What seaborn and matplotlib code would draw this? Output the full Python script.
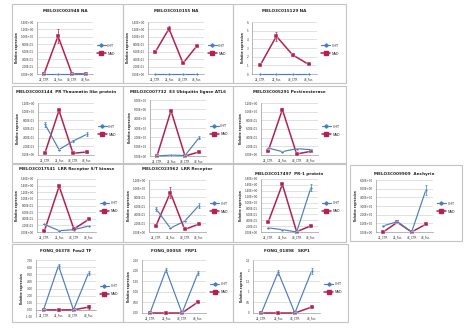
import numpy as np
import pandas as pd
import matplotlib
matplotlib.use("Agg")
import matplotlib.pyplot as plt
from matplotlib.patches import Rectangle
from matplotlib.ticker import FuncFormatter
import seaborn as sns

# ---------------- data ----------------
categories = ["24_CTR", "24_Fus", "48_CTR", "48_Fus"]
series_names = ["CHT", "NAD"]

titles = [
    "MELO3C002948 NA", "MELO3C010155 NA", "MELO3C015129 NA",
    "MELO3C003144  PR Thaumatin like protein", "MELO3C007732  E3 Ubiquitin ligase ATL6",
    "MELO3C005291 Pectinesterase",
    "MELO3C017541  LRR Receptor S/T kinase", "MELO3C023962  LRR Receptor",
    "MELO3C017497  PR-1 protein", "MELO3C009909  Anchyrin",
    "FONG_06378  Fow2 TF", "FONG_00058   FRP1", "FONG_01898   SKP1",
]

cht_1 = [0, 0, 0, 0];               nad_1 = [0, 1.02, 0, 0]
cht_2 = [0, 0, 0, 0];               nad_2 = [0.58, 1.22, 0.29, 0.76]
cht_3 = [0, 0, 0, 0];               nad_3 = [1.0, 4.36, 2.2, 1.1]
cht_4 = [0.71, 0.125, 0.32, 0.48];  nad_4 = [0.05, 1.03, 0.04, 0.07]
cht_5 = [0, 0.1, 0.05, 1.95];       nad_5 = [0, 4.86, 0, 0.43]
cht_6 = [0.16, 0.077, 0.146, 0.123]; nad_6 = [0.085, 1.05, 0.023, 0.085]
cht_7 = [0.23, 0.04, 0.07, 0.18];   nad_7 = [0.03, 1.38, 0.09, 0.38]
cht_8 = [0.53, 0.09, 0.25, 0.61];   nad_8 = [0.15, 0.91, 0.06, 0.18]
cht_9 = [0.14, 0.08, 0.0, 1.5];     nad_9 = [0.33, 1.62, 0.01, 0.21]
cht_10 = [0.7, 1.2, 0, 4.85];       nad_10 = [0, 1.12, 0, 0.9]
cht_11 = [0, 6.2, 0, 5.15];         nad_11 = [0, 0, 0, 0.38]
cht_12 = [0, 2.03, 0, 1.89];        nad_12 = [0, 0, 0, 0.52]
cht_13 = [0, 1.93, 0, 1.98];        nad_13 = [0, 0, 0, 0.28]

cht_err_1 = [0, 0, 0, 0];        nad_err_1 = [0, 0.18, 0, 0]
cht_err_2 = [0, 0, 0, 0];        nad_err_2 = [0, 0.06, 0, 0]
cht_err_3 = [0, 0, 0, 0];        nad_err_3 = [0, 0.5, 0.1, 0]
cht_err_4 = [0.06, 0, 0.03, 0.05]; nad_err_4 = [0, 0.03, 0, 0]
cht_err_5 = [0, 0, 0, 0.15];     nad_err_5 = [0, 0.1, 0, 0]
cht_err_6 = [0, 0, 0, 0];        nad_err_6 = [0, 0.03, 0, 0]
cht_err_7 = [0, 0, 0, 0];        nad_err_7 = [0, 0.03, 0, 0]
cht_err_8 = [0.05, 0, 0, 0.06];  nad_err_8 = [0, 0.13, 0, 0]
cht_err_9 = [0, 0, 0, 0.12];     nad_err_9 = [0, 0.05, 0, 0]
cht_err_10 = [0, 0, 0, 0.6];     nad_err_10 = [0, 0, 0, 0]
cht_err_11 = [0, 0.3, 0, 0.3];   nad_err_11 = [0, 0, 0, 0.25]
cht_err_12 = [0, 0.1, 0, 0.1];   nad_err_12 = [0, 0, 0, 0]
cht_err_13 = [0, 0.12, 0, 0.12]; nad_err_13 = [0, 0, 0, 0]

# y-axis ranges: (min, max, step) and tick-label style
y_min = [0, 0, 0, 0, 0, 0, 0, 0, 0, 0, -1, 0, 0]
y_max = [1.4, 1.4, 6, 1.2, 6, 1.2, 1.6, 1.2, 1.8, 6, 7, 2.5, 2.5]
y_step = [0.2, 0.2, 1, 0.2, 1, 0.2, 0.2, 0.2, 0.2, 1, 1, 0.5, 0.5]
y_fmt = ["sci", "sci", "int", "sci", "sci", "sci", "sci", "sci", "sci", "sci", "f2", "f2", "g"]

chts = [cht_1, cht_2, cht_3, cht_4, cht_5, cht_6, cht_7, cht_8, cht_9, cht_10, cht_11, cht_12, cht_13]
nads = [nad_1, nad_2, nad_3, nad_4, nad_5, nad_6, nad_7, nad_8, nad_9, nad_10, nad_11, nad_12, nad_13]
cht_errs = [cht_err_1, cht_err_2, cht_err_3, cht_err_4, cht_err_5, cht_err_6, cht_err_7,
            cht_err_8, cht_err_9, cht_err_10, cht_err_11, cht_err_12, cht_err_13]
nad_errs = [nad_err_1, nad_err_2, nad_err_3, nad_err_4, nad_err_5, nad_err_6, nad_err_7,
            nad_err_8, nad_err_9, nad_err_10, nad_err_11, nad_err_12, nad_err_13]

# ---------------- layout (pixels) ----------------
W, H = 474, 332
boxes = [
    (12, 4, 123, 83), (123, 4, 233, 83), (233, 4, 346, 83),
    (12, 86, 123, 163), (123, 86, 233, 163), (233, 86, 346, 163),
    (12, 164, 123, 242), (123, 164, 233, 242), (233, 164, 346, 242), (350, 165, 462, 241),
    (12, 244, 123, 322), (123, 244, 233, 322), (233, 244, 348, 322),
]
areas = [
    (37, 22, 93, 74), (148, 22, 204, 74), (252, 22, 317, 74),
    (38, 103, 94, 155), (150, 100, 206, 156), (261, 103, 318, 155),
    (37, 179, 96, 232), (149, 180, 206, 232), (261, 179, 318, 232), (376, 180, 433, 232),
    (36, 260, 96, 317), (142, 260, 206, 313), (253, 260, 320, 313),
]
title_y = [11, 11, 11, 92, 92, 92, 169, 169, 174, 174, 250, 250, 250]

BLUE = "#4A7EBB"
RED = "#B3224F"
palette = {"CHT": BLUE, "NAD": RED}

sns.set_theme(style="white")
plt.rcParams["font.family"] = ["DejaVu Sans"]

fig = plt.figure(figsize=(W / 100, H / 100), dpi=100)
fig.patch.set_facecolor("white")


def fmt_factory(kind):
    def f(v, pos):
        if kind == "sci":
            return "%.2E" % v
        if kind == "int":
            return "%d" % round(v)
        if kind == "f2":
            return "%.2f" % v
        return "%g" % v
    return FuncFormatter(f)


for i in range(13):
    x0, y0, x1, y1 = boxes[i]
    fig.patches.append(Rectangle((x0 / W, 1 - y1 / H), (x1 - x0) / W, (y1 - y0) / H,
                                 transform=fig.transFigure, fill=False,
                                 edgecolor="#c4c4c4", linewidth=0.8))
    l, t, r, b = areas[i]
    ax = fig.add_axes([l / W, 1 - b / H, (r - l) / W, (b - t) / H])
    ax.set_facecolor("none")

    df = pd.DataFrame({
        "cat": categories * 2,
        "val": list(chts[i]) + list(nads[i]),
        "series": [series_names[0]] * 4 + [series_names[1]] * 4,
    })
    sns.lineplot(data=df, x="cat", y="val", hue="series", style="series",
                 hue_order=["NAD", "CHT"], style_order=["NAD", "CHT"],
                 markers={"CHT": "D", "NAD": "s"}, dashes=False, sort=False,
                 palette=palette, ax=ax, legend=False, zorder=3)
    for line in ax.lines:
        is_red = matplotlib.colors.to_hex(line.get_color()).lower() == RED.lower()
        line.set_linewidth(1.1 if is_red else 0.85)
        line.set_markersize(2.6 if is_red else 1.7)
        line.set_markeredgewidth(0.3)
        line.set_clip_on(False)

    xs = np.arange(4)
    ax.errorbar(xs, nads[i], yerr=nad_errs[i], fmt="none", ecolor=RED,
                elinewidth=0.5, capsize=0.8, capthick=0.5, zorder=4)
    ax.errorbar(xs, chts[i], yerr=cht_errs[i], fmt="none", ecolor=BLUE,
                elinewidth=0.5, capsize=0.8, capthick=0.5, zorder=4)

    ax.set_xlim(-0.5, 3.5)
    ax.set_ylim(y_min[i], y_max[i])
    ticks = np.arange(y_min[i], y_max[i] + y_step[i] / 2, y_step[i])
    ax.set_yticks(ticks)
    ax.yaxis.set_major_formatter(fmt_factory(y_fmt[i]))
    ax.set_xticks(xs)
    ax.set_xticklabels(categories)
    ax.grid(axis="y", color="#d4d4d4", linewidth=0.5)
    ax.grid(axis="x", visible=False)
    ax.set_axisbelow(True)
    for s in ["top", "right"]:
        ax.spines[s].set_visible(False)
    for s in ["left", "bottom"]:
        ax.spines[s].set_color("#9a9a9a")
        ax.spines[s].set_linewidth(0.5)
        ax.spines[s].set_zorder(1)
    if y_min[i] < 0:
        ax.spines["bottom"].set_position(("data", 0))
    ax.tick_params(axis="both", labelsize=2.0, length=1.2, width=0.4,
                   color="#9a9a9a", pad=1.0, labelcolor="#333333")
    ax.set_xlabel("")
    ax.set_ylabel("Relative expression", fontsize=2.0, fontweight="bold",
                  labelpad=1.5, color="#222222")

    fig.text(((l + r) / 2) / W, 1 - title_y[i] / H, titles[i], ha="center", va="center",
             fontsize=3.0, fontweight="bold", color="#222222")

    handles = [
        plt.Line2D([], [], color=BLUE, marker="D", markersize=1.7, linewidth=0.85),
        plt.Line2D([], [], color=RED, marker="s", markersize=2.6, linewidth=1.1),
    ]
    ax.legend(handles, series_names, loc="center left", bbox_to_anchor=(1.04, 0.47),
              frameon=False, fontsize=2.4, handlelength=2.8, handletextpad=0.4,
              labelspacing=1.2, borderaxespad=0)

fig.savefig("out.png", dpi=100, facecolor="white")
